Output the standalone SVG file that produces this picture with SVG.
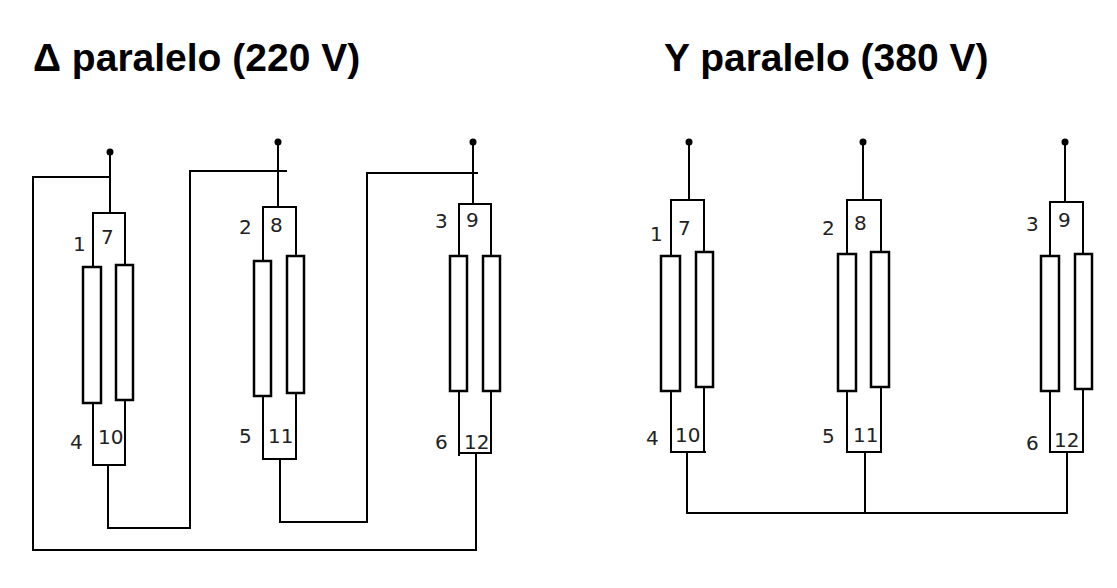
<svg xmlns="http://www.w3.org/2000/svg" width="1117" height="588" viewBox="0 0 1117 588">
<style>
.t{font-family:"Liberation Sans",Arial,sans-serif;font-weight:bold;font-size:39px;fill:#000}
.n{font-family:"DejaVu Sans","Liberation Sans",sans-serif;font-size:20px;fill:#222}
.w{fill:none;stroke:#000;stroke-width:2}
.r{fill:#fff;stroke:#000;stroke-width:2.5}
</style>
<rect width="1117" height="588" fill="#fff"/>
<text class="t" x="33" y="71">Δ paralelo (220 V)</text>
<text class="t" x="664" y="71">Y paralelo (380 V)</text>
<g id="connectors">
<path class="w" d="M108 465V528H190V171H287"/>
<path class="w" d="M280 459V522H367V173H478"/>
<path class="w" d="M476 453V550H33V177H110"/>
<path class="w" d="M687 452V513H1067V452M865 452V513"/>
</g>
<g id="d1">
<circle cx="110" cy="152" r="3.5"/><path class="w" d="M110 152V213M93 267V213H125V265M93 403V465H126M125 400V465"/>
<rect class="r" x="83" y="267" width="18" height="136"/><rect class="r" x="116" y="265" width="17" height="135"/>
<text class="n" x="73" y="251">1</text><text class="n" x="101" y="244">7</text><text class="n" x="70" y="449">4</text><text class="n" x="98" y="444">10</text>
</g>
<g id="d2">
<circle cx="278" cy="142" r="3.5"/><path class="w" d="M278 142V207M263 261V207H296V256M263 396V459H296V393"/>
<rect class="r" x="254" y="261" width="17" height="135"/><rect class="r" x="287" y="256" width="17" height="137"/>
<text class="n" x="239" y="234">2</text><text class="n" x="270" y="232">8</text><text class="n" x="239" y="443">5</text><text class="n" x="268" y="443">11</text>
</g>
<g id="d3">
<circle cx="473" cy="142" r="3.5"/><path class="w" d="M473 142V204M459 256V204H491V256M459 391V456M459 453H491V391"/>
<rect class="r" x="450" y="256" width="17" height="135"/><rect class="r" x="483" y="256" width="17" height="135"/>
<text class="n" x="435" y="228">3</text><text class="n" x="466" y="227">9</text><text class="n" x="435" y="449">6</text><text class="n" x="464" y="449">12</text>
</g>
<g id="y1">
<circle cx="689" cy="142" r="3.5"/><path class="w" d="M689 142V200M671 256V200H704V252M671 391V452H706M704 387V452"/>
<rect class="r" x="661" y="256" width="19" height="135"/><rect class="r" x="696" y="252" width="17" height="135"/>
<text class="n" x="650" y="241">1</text><text class="n" x="678" y="235">7</text><text class="n" x="646" y="445">4</text><text class="n" x="675" y="442">10</text>
</g>
<g id="y2">
<circle cx="863" cy="142" r="3.5"/><path class="w" d="M863 142V200M847 254V200H881V252M847 391V452H881V387"/>
<rect class="r" x="838" y="254" width="18" height="137"/><rect class="r" x="871" y="252" width="18" height="135"/>
<text class="n" x="822" y="235">2</text><text class="n" x="854" y="230">8</text><text class="n" x="822" y="443">5</text><text class="n" x="853" y="442">11</text>
</g>
<g id="y3">
<circle cx="1065" cy="142" r="3.5"/><path class="w" d="M1065 142V202M1050 256V202H1083V254M1050 391V452H1083V389"/>
<rect class="r" x="1041" y="256" width="18" height="135"/><rect class="r" x="1075" y="254" width="17" height="135"/>
<text class="n" x="1026" y="231">3</text><text class="n" x="1058" y="227">9</text><text class="n" x="1026" y="450">6</text><text class="n" x="1054" y="447">12</text>
</g>
</svg>
